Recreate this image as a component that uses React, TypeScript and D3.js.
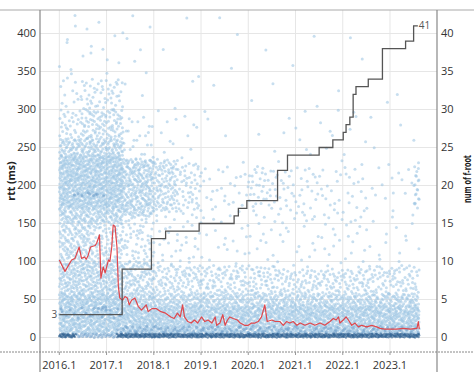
import React, { useMemo } from "react";
import * as d3 from "d3";

const W = 474;
const H = 377;

// ---- axis ticks ----
const xTickYears = [2016, 2017, 2018, 2019, 2020, 2021, 2022, 2023];
const xTickLabels = ["2016.1", "2017.1", "2018.1", "2019.1", "2020.1", "2021.1", "2022.1", "2023.1"];
const leftTicks = [0, 50, 100, 150, 200, 250, 300, 350, 400];
const rightTicks = [0, 5, 10, 15, 20, 25, 30, 35, 40];

// ---- median rtt (red line) ----
const medianT = [
  2016.0, 2016.12, 2016.26, 2016.33, 2016.42, 2016.47, 2016.53, 2016.57, 2016.61, 2016.66,
  2016.76, 2016.79, 2016.85, 2016.88, 2016.93, 2016.97, 2017.04, 2017.07, 2017.11, 2017.14,
  2017.18, 2017.22, 2017.25, 2017.28, 2017.34, 2017.39, 2017.44, 2017.48, 2017.53, 2017.6,
  2017.67, 2017.74, 2017.84, 2017.88, 2017.96, 2018.05, 2018.15, 2018.25, 2018.36, 2018.43,
  2018.5, 2018.56, 2018.61, 2018.65, 2018.72, 2018.79, 2018.86, 2018.93, 2019.01, 2019.08,
  2019.15, 2019.23, 2019.3, 2019.33, 2019.4, 2019.46, 2019.51, 2019.56, 2019.61, 2019.68,
  2019.77, 2019.83, 2019.92, 2020.0, 2020.07, 2020.14, 2020.21, 2020.28, 2020.35, 2020.4,
  2020.5, 2020.57, 2020.67, 2020.74, 2020.81, 2020.88, 2020.95, 2021.03, 2021.1, 2021.2,
  2021.31, 2021.41, 2021.52, 2021.62, 2021.73, 2021.8, 2021.86, 2021.91, 2021.94, 2022.01,
  2022.07, 2022.12, 2022.19, 2022.26, 2022.33, 2022.4, 2022.51, 2022.61, 2022.72, 2022.79,
  2022.89, 2023.0, 2023.14, 2023.28, 2023.43, 2023.57, 2023.6, 2023.62,
];
const medianV = [
  102, 87, 102, 104, 119, 104, 106, 103, 108, 119,
  121, 124, 135, 78, 93, 85, 102, 100, 119, 148,
  146, 119, 67, 52, 49, 54, 52, 43, 49, 52,
  41, 36, 43, 34, 38, 38, 34, 32, 27, 25,
  32, 27, 43, 27, 21, 19, 23, 19, 27, 21,
  23, 19, 27, 16, 19, 30, 16, 23, 27, 25,
  23, 19, 16, 16, 19, 19, 21, 27, 43, 21,
  23, 21, 21, 16, 21, 19, 21, 16, 19, 16,
  19, 16, 19, 16, 21, 25, 23, 27, 19, 23,
  27, 23, 16, 19, 14, 16, 14, 16, 14, 12,
  11, 11, 11, 12, 11, 12, 21, 11,
];

// ---- number of f-root instances (step line, right axis) ----
const frootT = [
  2016.0, 2017.33, 2017.95, 2018.25, 2018.96, 2019.7, 2019.79, 2019.97, 2020.62, 2020.83,
  2021.5, 2021.79, 2022.01, 2022.07, 2022.15, 2022.22, 2022.28, 2022.54, 2022.84, 2023.33,
  2023.5, 2023.59,
];
const frootV = [3, 9, 13, 14, 15, 16, 17, 18, 22, 24, 25, 26, 27, 28, 29, 32, 33, 34, 38, 39, 41, 41];

// ---- scatter density: [t0, t1, rtt0, rtt1, density level, tone] ----
// tone: 0 light, 1 mid, 2 dark
const scatterBlocks: number[][] = [
  [2016.0, 2017.35, 5, 58, 1.0, 0],
  [2016.0, 2017.35, 58, 100, 0.65, 0],
  [2016.0, 2016.7, 100, 150, 0.45, 0],
  [2016.7, 2017.35, 100, 150, 0.3, 0],
  [2016.0, 2017.35, 150, 170, 0.65, 0],
  [2016.0, 2017.35, 170, 240, 1.0, 0],
  [2016.0, 2017.35, 240, 262, 0.6, 0],
  [2016.0, 2016.45, 262, 300, 0.2, 0],
  [2016.45, 2017.35, 262, 300, 0.35, 0],
  [2016.0, 2016.45, 300, 350, 0.07, 0],
  [2016.45, 2017.35, 300, 340, 0.18, 0],
  [2016.0, 2017.35, 345, 425, 0.02, 0],

  [2017.35, 2018.0, 5, 42, 1.0, 0],
  [2017.35, 2018.0, 42, 58, 0.7, 0],
  [2017.35, 2018.0, 58, 100, 0.45, 0],
  [2017.35, 2018.0, 100, 160, 0.18, 0],
  [2017.35, 2018.0, 160, 235, 0.65, 0],
  [2017.35, 2018.0, 235, 290, 0.08, 0],
  [2017.35, 2018.0, 290, 425, 0.012, 0],

  [2018.0, 2019.0, 5, 42, 1.0, 0],
  [2018.0, 2019.0, 42, 58, 0.6, 0],
  [2018.0, 2019.0, 58, 95, 0.3, 0],
  [2018.0, 2019.0, 95, 165, 0.07, 0],
  [2018.0, 2018.5, 165, 235, 0.4, 0],
  [2018.5, 2019.0, 165, 230, 0.2, 0],
  [2018.0, 2019.0, 235, 300, 0.025, 0],
  [2018.0, 2019.0, 300, 425, 0.005, 0],

  [2019.0, 2020.0, 5, 42, 1.0, 0],
  [2019.0, 2020.0, 42, 58, 0.6, 0],
  [2019.0, 2020.0, 58, 95, 0.28, 0],
  [2019.0, 2020.0, 95, 170, 0.035, 0],
  [2019.0, 2020.0, 170, 225, 0.06, 0],
  [2019.0, 2020.0, 225, 425, 0.005, 0],

  [2020.0, 2020.6, 5, 42, 1.0, 0],
  [2020.0, 2020.6, 42, 58, 0.6, 0],
  [2020.0, 2020.6, 58, 95, 0.28, 0],
  [2020.0, 2020.6, 95, 170, 0.04, 0],
  [2020.0, 2020.6, 170, 225, 0.15, 0],
  [2020.0, 2020.6, 225, 425, 0.005, 0],

  [2020.6, 2021.5, 5, 42, 1.0, 0],
  [2020.6, 2021.5, 42, 58, 0.6, 0],
  [2020.6, 2021.5, 58, 90, 0.28, 0],
  [2020.6, 2021.5, 90, 150, 0.035, 0],
  [2020.6, 2021.5, 150, 225, 0.08, 0],
  [2020.6, 2021.5, 225, 310, 0.015, 0],
  [2020.6, 2021.5, 310, 425, 0.003, 0],

  [2021.5, 2022.5, 5, 42, 1.0, 0],
  [2021.5, 2022.5, 42, 58, 0.6, 0],
  [2021.5, 2022.5, 58, 90, 0.28, 0],
  [2021.5, 2022.5, 90, 140, 0.04, 0],
  [2021.5, 2022.5, 140, 225, 0.06, 0],
  [2021.5, 2022.5, 225, 300, 0.02, 0],
  [2021.5, 2022.5, 300, 425, 0.003, 0],

  [2022.5, 2023.62, 5, 42, 1.0, 0],
  [2022.5, 2023.62, 42, 58, 0.6, 0],
  [2022.5, 2023.62, 58, 95, 0.25, 0],
  [2022.5, 2023.62, 95, 170, 0.025, 0],
  [2022.5, 2023.62, 170, 230, 0.03, 0],
  [2023.5, 2023.62, 170, 225, 0.35, 0],
  [2022.5, 2023.62, 230, 320, 0.008, 0],

  [2016.3, 2016.95, 186, 190, 0.45, 1],
  [2016.8, 2017.1, 36, 41, 0.45, 1],
  [2016.0, 2017.35, 25, 40, 0.12, 1],
  [2017.22, 2023.62, 5, 15, 0.3, 1],
  [2016.35, 2017.22, 0, 5, 0.9, 1],

  [2016.0, 2016.35, 0, 5, 2.5, 2],
  [2017.22, 2023.62, 0, 5, 2.5, 2],
];

const toneFill = ["#9ec6e4", "#6f9fca", "#336494"];
const toneOpacity = [0.58, 0.55, 0.65];

function halton(i: number, b: number): number {
  let f = 1;
  let r = 0;
  while (i > 0) {
    f /= b;
    r += f * (i % b);
    i = Math.floor(i / b);
  }
  return r;
}

const FONT = "'Open Sans', 'DejaVu Sans', sans-serif";

export default function App() {
  const left = 40;
  const right = 437;
  const top = 10;
  const bottom = 352;

  const x = d3.scaleLinear().domain([2015.591, 2023.995]).range([left, right]);
  const yL = d3.scaleLinear().domain([-19.1, 430.9]).range([bottom, top]);
  const yR = d3.scaleLinear().domain([-1.91, 43.09]).range([bottom, top]);

  const dots = useMemo(() => {
    const out: { cx: number; cy: number }[][] = [[], [], []];
    const DENS = 0.22;
    scatterBlocks.forEach((b, bi) => {
      const [t0, t1, v0, v1, level, tone] = b;
      const wpx = Math.abs(x(t1) - x(t0));
      const hpx = Math.abs(yL(v1) - yL(v0));
      const n = Math.round(level * DENS * wpx * hpx);
      const off = 1 + bi * 3001;
      for (let i = 0; i < n; i++) {
        const t = t0 + (t1 - t0) * halton(off + i, 2);
        const v = v0 + (v1 - v0) * halton(off + i, 3);
        out[tone].push({ cx: x(t), cy: yL(v) });
      }
    });
    return out;
  }, []);

  const medianLine = d3
    .line<number>()
    .x((_, i) => x(medianT[i]))
    .y((d) => yL(d))(medianV) as string;

  const stepLine = d3
    .line<number>()
    .curve(d3.curveStepAfter)
    .x((_, i) => x(frootT[i]))
    .y((d) => yR(d))(frootV) as string;

  const lastT = frootT[frootT.length - 1];
  const lastV = frootV[frootV.length - 1];

  return (
    <svg
      width={W}
      height={H}
      style={{ position: "absolute", left: 0, top: 0, background: "#fff" }}
      fontFamily={FONT}
    >
      <rect x={0} y={0} width={W} height={H} fill="#fff" />
      {/* grid */}
      <g stroke="#e6e6e6" strokeWidth={1}>
        {xTickYears.map((t) => (
          <line key={"gx" + t} x1={x(t)} x2={x(t)} y1={top} y2={bottom} />
        ))}
        {leftTicks.map((v) => (
          <line key={"gy" + v} x1={left} x2={right} y1={yL(v)} y2={yL(v)} />
        ))}
      </g>

      {/* scatter */}
      {dots.map((arr, tone) => (
        <g key={"tone" + tone} fill={toneFill[tone]} fillOpacity={toneOpacity[tone]}>
          {arr.map((d, i) => (
            <circle key={i} cx={d.cx} cy={d.cy} r={tone === 2 ? 1.2 : 1.5} />
          ))}
        </g>
      ))}

      {/* median rtt */}
      <path d={medianLine} fill="none" stroke="#e0474c" strokeWidth={1.2} strokeLinejoin="round" />

      {/* f-root count */}
      <path d={stepLine} fill="none" stroke="#555" strokeWidth={1.3} />
      <text x={x(frootT[0]) - 2} y={yR(frootV[0])} dy="0.35em" textAnchor="end" fontSize={10} fill="#555">
        {frootV[0]}
      </text>
      <text x={x(lastT) + 1} y={yR(lastV)} dy="0.35em" textAnchor="start" fontSize={10} fill="#555">
        {lastV}
      </text>

      {/* frame */}
      <line x1={0} x2={W} y1={top} y2={top} stroke="#aaa" strokeWidth={1} />
      <line x1={0} x2={W} y1={bottom} y2={bottom} stroke="#888" strokeWidth={1} strokeDasharray="2,1" />
      <line x1={left} x2={left} y1={top} y2={372} stroke="#888" strokeWidth={1.2} />
      <line x1={right} x2={right} y1={top} y2={372} stroke="#888" strokeWidth={1.2} />

      {/* x ticks */}
      {xTickYears.map((t, i) => (
        <g key={"xt" + t}>
          <line x1={x(t)} x2={x(t)} y1={bottom} y2={bottom + 3} stroke="#999" />
          <text x={x(t)} y={369} textAnchor="middle" fontSize={11} fill="#333">
            {xTickLabels[i]}
          </text>
        </g>
      ))}

      {/* left ticks */}
      {leftTicks.map((v) => (
        <text key={"yl" + v} x={36} y={yL(v)} dy="0.35em" textAnchor="end" fontSize={11} fill="#333">
          {v}
        </text>
      ))}

      {/* right ticks */}
      {rightTicks.map((v) => (
        <text key={"yr" + v} x={441} y={yR(v)} dy="0.35em" textAnchor="start" fontSize={11} fill="#333">
          {v}
        </text>
      ))}

      {/* axis titles */}
      <text
        transform={`translate(11,${181}) rotate(-90)`}
        textAnchor="middle"
        dy="0.35em"
        fontSize={10.5}
        fontWeight="bold"
        fill="#222"
      >
        rtt (ms)
      </text>
      <text
        transform={`translate(467,${179}) rotate(-90)`}
        textAnchor="middle"
        dy="0.35em"
        fontSize={10.5}
        fontWeight="bold"
        fill="#222"
        textLength={48}
        lengthAdjust="spacingAndGlyphs"
      >
        num of f-root
      </text>
    </svg>
  );
}
